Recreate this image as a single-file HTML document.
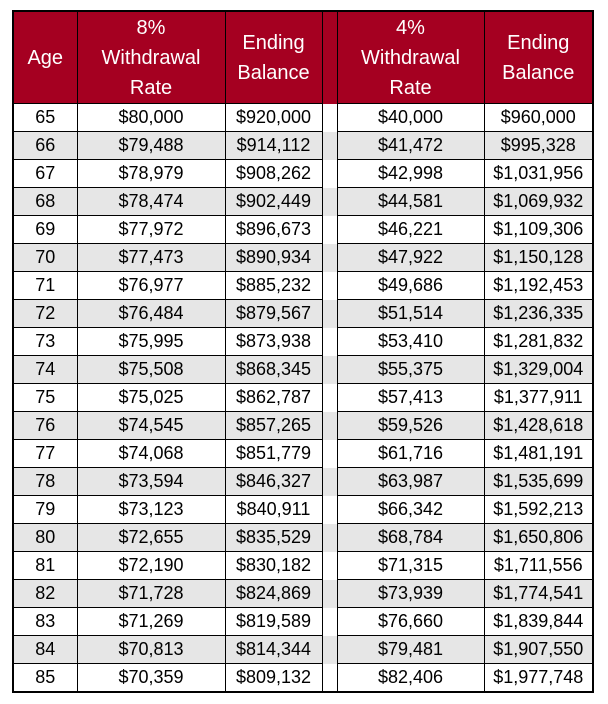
<!DOCTYPE html>
<html><head><meta charset="utf-8"><style>
html,body{margin:0;padding:0;background:#fff;width:608px;height:704px;overflow:hidden}
table{position:absolute;left:12px;top:10px;border-collapse:collapse;font-family:"Liberation Sans",Arial,sans-serif;table-layout:fixed;border:2px solid #000}
td,th{padding:0;text-align:center;border:1px solid #000;height:27px;font-size:18px;color:#000;font-weight:normal;white-space:nowrap}
th{background:#A50021;color:#fff;font-size:20px;line-height:30px;height:91px}
td.sp{border-top:none;border-bottom:none}
th.sp{border-top:none;border-bottom:none}
tr.g td{background:#E6E6E6}
</style></head><body>
<table>
<colgroup><col style="width:64px"><col style="width:148px"><col style="width:97px"><col style="width:15px"><col style="width:147px"><col style="width:109px"></colgroup>
<tr><th>Age</th><th>8%<br>Withdrawal<br>Rate</th><th>Ending<br>Balance</th><th class="sp"></th><th>4%<br>Withdrawal<br>Rate</th><th>Ending<br>Balance</th></tr>
<tr><td>65</td><td>$80,000</td><td>$920,000</td><td class="sp"></td><td>$40,000</td><td>$960,000</td></tr>
<tr class="g"><td>66</td><td>$79,488</td><td>$914,112</td><td class="sp"></td><td>$41,472</td><td>$995,328</td></tr>
<tr><td>67</td><td>$78,979</td><td>$908,262</td><td class="sp"></td><td>$42,998</td><td>$1,031,956</td></tr>
<tr class="g"><td>68</td><td>$78,474</td><td>$902,449</td><td class="sp"></td><td>$44,581</td><td>$1,069,932</td></tr>
<tr><td>69</td><td>$77,972</td><td>$896,673</td><td class="sp"></td><td>$46,221</td><td>$1,109,306</td></tr>
<tr class="g"><td>70</td><td>$77,473</td><td>$890,934</td><td class="sp"></td><td>$47,922</td><td>$1,150,128</td></tr>
<tr><td>71</td><td>$76,977</td><td>$885,232</td><td class="sp"></td><td>$49,686</td><td>$1,192,453</td></tr>
<tr class="g"><td>72</td><td>$76,484</td><td>$879,567</td><td class="sp"></td><td>$51,514</td><td>$1,236,335</td></tr>
<tr><td>73</td><td>$75,995</td><td>$873,938</td><td class="sp"></td><td>$53,410</td><td>$1,281,832</td></tr>
<tr class="g"><td>74</td><td>$75,508</td><td>$868,345</td><td class="sp"></td><td>$55,375</td><td>$1,329,004</td></tr>
<tr><td>75</td><td>$75,025</td><td>$862,787</td><td class="sp"></td><td>$57,413</td><td>$1,377,911</td></tr>
<tr class="g"><td>76</td><td>$74,545</td><td>$857,265</td><td class="sp"></td><td>$59,526</td><td>$1,428,618</td></tr>
<tr><td>77</td><td>$74,068</td><td>$851,779</td><td class="sp"></td><td>$61,716</td><td>$1,481,191</td></tr>
<tr class="g"><td>78</td><td>$73,594</td><td>$846,327</td><td class="sp"></td><td>$63,987</td><td>$1,535,699</td></tr>
<tr><td>79</td><td>$73,123</td><td>$840,911</td><td class="sp"></td><td>$66,342</td><td>$1,592,213</td></tr>
<tr class="g"><td>80</td><td>$72,655</td><td>$835,529</td><td class="sp"></td><td>$68,784</td><td>$1,650,806</td></tr>
<tr><td>81</td><td>$72,190</td><td>$830,182</td><td class="sp"></td><td>$71,315</td><td>$1,711,556</td></tr>
<tr class="g"><td>82</td><td>$71,728</td><td>$824,869</td><td class="sp"></td><td>$73,939</td><td>$1,774,541</td></tr>
<tr><td>83</td><td>$71,269</td><td>$819,589</td><td class="sp"></td><td>$76,660</td><td>$1,839,844</td></tr>
<tr class="g"><td>84</td><td>$70,813</td><td>$814,344</td><td class="sp"></td><td>$79,481</td><td>$1,907,550</td></tr>
<tr><td>85</td><td>$70,359</td><td>$809,132</td><td class="sp"></td><td>$82,406</td><td>$1,977,748</td></tr>
</table>
</body></html>
